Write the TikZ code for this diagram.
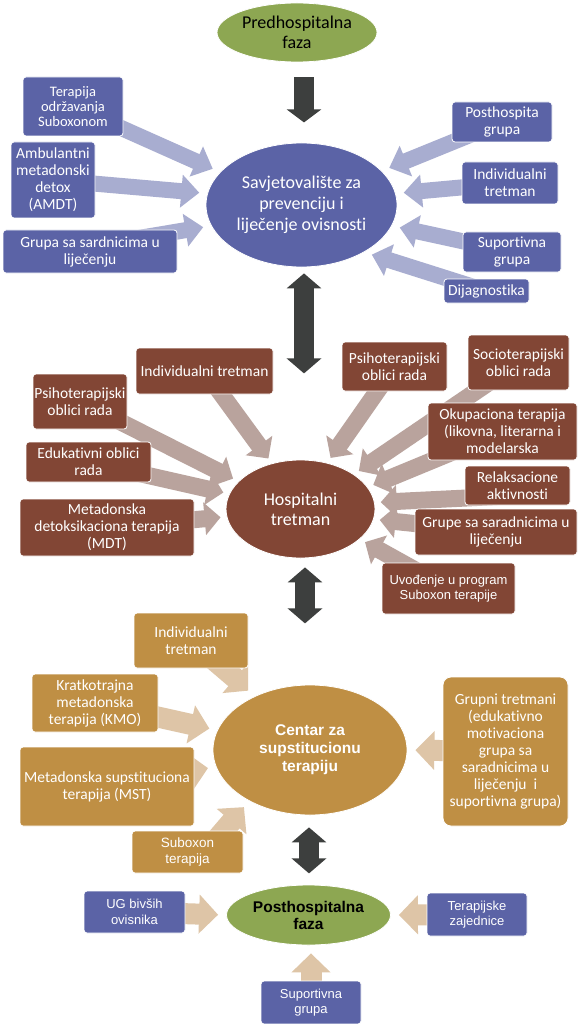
\documentclass[tikz,border=0pt]{standalone}
\usepackage{fontspec}
\setmainfont{Carlito}[Ligatures={NoCommon,NoContextual}]
\newfontfamily\arialfont{Liberation Sans}
\usepackage{xcolor}
\usetikzlibrary{arrows.meta,shapes.geometric,backgrounds,calc}

\definecolor{boxblue}{RGB}{91,99,166}
\definecolor{boxbrown}{RGB}{130,70,53}
\definecolor{boxtan}{RGB}{191,143,68}
\definecolor{phasegreen}{RGB}{141,167,82}
\definecolor{arrowlav}{RGB}{168,173,208}
\definecolor{arrowbrown}{RGB}{185,163,157}
\definecolor{arrowtan}{RGB}{222,197,167}
\definecolor{darkgrey}{RGB}{61,63,62}

\tikzset{
  box/.style={rectangle,rounded corners=3pt,draw=white,line width=0.8pt,text=white,align=center,inner sep=0pt,font=\fontsize{15.5}{17}\selectfont},
  bluebox/.style={box,fill=boxblue},
  brownbox/.style={box,fill=boxbrown},
  tanbox/.style={box,fill=boxtan},
  arialbox/.style={font=\arialfont\fontsize{13}{15.5}\selectfont},
  phase/.style={ellipse,draw=white,line width=0.8pt,inner sep=0pt,align=center,text=white,font=\fontsize{18}{21}\selectfont},
  lavarrow/.style={draw=arrowlav,line width=16pt,-{Triangle[width=32pt,length=18pt]},shorten >=8pt},
  brownarrow/.style={draw=arrowbrown,line width=17pt,-{Triangle[width=32pt,length=16pt]},shorten >=6pt},
  tanarrow/.style={draw=arrowtan,line width=21pt,-{Triangle[width=38pt,length=19pt]},shorten >=8pt},
  darkone/.style={draw=darkgrey,line width=20pt,-{Triangle[width=34pt,length=13pt]}},
  darkboth/.style={draw=darkgrey,line width=20pt,{Triangle[width=34pt,length=15pt]}-{Triangle[width=34pt,length=15pt]}}
}

\begin{document}
\begin{tikzpicture}[x=1pt,y=-1pt]
\useasboundingbox (0,0) rectangle (581,1024);

% faze
\node[phase,fill=phasegreen,text=black,minimum width=160,minimum height=59,font=\fontsize{18}{20}\selectfont] (pre) at (297,32.5) {Predhospitalna\\faza};
\node[phase,fill=boxblue,minimum width=191,minimum height=124] (sav) at (301.5,205) {Savjetovalište za\\prevenciju i\\liječenje ovisnosti};
\node[phase,fill=boxbrown,minimum width=149,minimum height=98,font=\fontsize{18}{20}\selectfont] (hosp) at (300.5,509) {Hospitalni\\tretman};
\node[phase,fill=boxtan,minimum width=194,minimum height=130,font=\arialfont\bfseries\fontsize{15.5}{18}\selectfont] (cent) at (310,750) {Centar za\\supstitucionu\\terapiju};
\node[phase,fill=phasegreen,text=black,minimum width=164,minimum height=60,font=\arialfont\bfseries\fontsize{15.5}{17}\selectfont] (post) at (308.5,915) {Posthospitalna\\faza};

\node[bluebox,font=\fontsize{14.5}{15}\selectfont,minimum width=100,minimum height=59] (bt1) at (73,106.5) {Terapija\\održavanja\\Suboxonom};
\node[bluebox,minimum width=84,minimum height=76] (bt2) at (53,180) {Ambulantni\\metadonski\\detox\\(AMDT)};
\node[bluebox,minimum width=174,minimum height=43] (bt3) at (90,251.5) {Grupa sa sardnicima u\\liječenju};
\node[bluebox,minimum width=100,minimum height=40] (bt4) at (502,122) {Posthospita\\grupa};
\node[bluebox,minimum width=96,minimum height=42] (bt5) at (510,183) {Individualni\\tretman};
\node[bluebox,minimum width=98,minimum height=40] (bt6) at (512,252) {Suportivna\\grupa};
\node[bluebox,minimum width=85,minimum height=24] (bt7) at (486.5,291) {Dijagnostika};

\node[brownbox,minimum width=137,minimum height=46] (h1) at (204.5,371) {Individualni tretman};
\node[brownbox,minimum width=94,minimum height=55] (h2) at (80,401.5) {Psihoterapijski\\oblici rada};
\node[brownbox,minimum width=125,minimum height=40] (h3) at (88.5,462) {Edukativni oblici\\rada};
\node[brownbox,minimum width=174,minimum height=57] (h4) at (107,527.5) {Metadonska\\detoksikaciona terapija\\(MDT)};
\node[brownbox,minimum width=105,minimum height=49] (h5) at (394.5,366.5) {Psihoterapijski\\oblici rada};
\node[brownbox,minimum width=101,minimum height=55] (h6) at (518.5,362.5) {Socioterapijski\\oblici rada};
\node[brownbox,minimum width=149,minimum height=57] (h7) at (502.5,431.5) {Okupaciona terapija\\(likovna, literarna i\\modelarska};
\node[brownbox,minimum width=105,minimum height=39] (h8) at (517.5,485.5) {Relaksacione\\aktivnosti};
\node[brownbox,minimum width=162,minimum height=46] (h9) at (496,532) {Grupe sa saradnicima u\\liječenju};
\node[brownbox,arialbox,minimum width=133,minimum height=51] (h10) at (448.5,588.5) {Uvođenje u program\\Suboxon terapije};

\node[tanbox,minimum width=114,minimum height=55] (c1) at (191,640.5) {Individualni\\tretman};
\node[tanbox,minimum width=126,minimum height=58] (c2) at (95,703) {Kratkotrajna\\metadonska\\terapija (KMO)};
\node[tanbox,minimum width=174,minimum height=79] (c3) at (107,786.5) {Metadonska supstituciona\\terapija (MST)};
\node[tanbox,font=\arialfont\fontsize{13.5}{16}\selectfont,minimum width=111,minimum height=42] (c4) at (187.5,852) {Suboxon\\terapija};
\node[tanbox,rounded corners=8pt,minimum width=125,minimum height=149] (c5) at (505.5,751.5) {Grupni tretmani\\(edukativno\\motivaciona\\grupa sa\\saradnicima u\\liječenju \ i\\suportivna grupa)};

\node[bluebox,arialbox,minimum width=101,minimum height=42] (p1) at (134.5,912) {UG bivših\\ovisnika};
\node[bluebox,arialbox,minimum width=100,minimum height=43] (p2) at (477,914.5) {Terapijske\\zajednice};
\node[bluebox,arialbox,minimum width=100,minimum height=43] (p3) at (311,1002.5) {Suportivna\\grupa};

% strelice
\draw[darkone] ($(pre.south)+(7,15)$) -- ++(0,45);
\draw[darkboth] ($(sav.south)+(2.5,6)$) -- ++(0,100);
\draw[darkboth] ($(hosp.south)+(4.5,9)$) -- ++(0,56);
\draw[darkboth] ($(cent.south)+(-1,12)$) -- ++(0,46);

\begin{scope}[on background layer]
\fill[white] (0,0) rectangle (581,1024);
\foreach \b/\a in {bt1/158,bt2/173,bt4/23,bt5/7,bt6/347,bt7/323}
  \draw[lavarrow] (\b.center) -- (sav.\a);
\draw[lavarrow] ($(bt3.center)+(40,-12)$) -- (sav.193);
\foreach \b/\a in {h1/122,h2/156,h3/168,h4/186,h5/60,h6/33,h7/18,h9/352,h10/333}
  \draw[brownarrow] (\b.center) -- (hosp.\a);
\draw[brownarrow] ($(h8.center)+(0,10)$) -- (hosp.5);
\foreach \b/\a in {c2/168,c3/190,c5/0}
  \draw[tanarrow] (\b.center) -- (cent.\a);
\begin{scope}
\clip (0,600) rectangle (248,900);
\draw[tanarrow] (c1.center) -- (cent.135);
\draw[tanarrow] ($(c4.center)+(18,0)$) -- (cent.220);
\end{scope}
\draw[tanarrow] (p1.center) -- (post.180);
\draw[tanarrow] (p2.center) -- (post.0);
\draw[tanarrow] (p3.center) -- (p3.center |- post.south);
\end{scope}
\end{tikzpicture}
\end{document}
